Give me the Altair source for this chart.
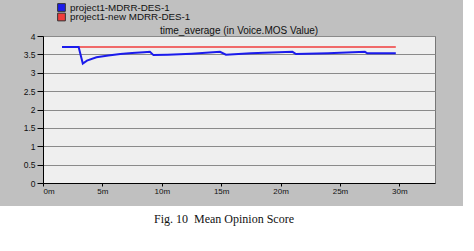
import altair as alt
import pandas as pd

series_names = ["project1-MDRR-DES-1", "project1-new MDRR-DES-1"]
series_colors = ["#1b1bec", "#f03c3c"]

blue_t = [1.6, 3.0, 3.35, 3.7, 4.5, 5.5, 6.5, 7.5, 8.5, 9.0, 9.3, 10.5, 12.5, 14.9, 15.4, 17.5, 21.0, 21.3, 24.0, 27.1, 27.3, 29.7]
blue_v = [3.70, 3.70, 3.25, 3.33, 3.42, 3.47, 3.51, 3.54, 3.56, 3.57, 3.48, 3.49, 3.52, 3.57, 3.49, 3.53, 3.57, 3.51, 3.53, 3.57, 3.53, 3.53]
red_t = [1.6, 29.7]
red_v = [3.70, 3.70]

x_ticks = [0, 5, 10, 15, 20, 25, 30]
y_ticks = [0, 0.5, 1, 1.5, 2, 2.5, 3, 3.5, 4]
title_text = "time_average (in Voice.MOS Value)"
caption_text = "Fig. 10\u00a0 Mean Opinion Score"

blue_df = pd.DataFrame({"t": blue_t, "v": blue_v, "s": series_names[0]})
red_df = pd.DataFrame({"t": red_t, "v": red_v, "s": series_names[1]})

W, H = 392, 147
PL, PT = 43, 36

color = alt.Color("s:N", scale=alt.Scale(domain=series_names, range=series_colors), legend=None)

xenc = alt.X("t:Q", scale=alt.Scale(domain=[0, 33], nice=False),
             axis=alt.Axis(values=x_ticks, labelExpr="datum.value + 'm'", title=None,
                           grid=False, tickSize=3, domainColor="#000", tickColor="#000",
                           labelFont="Liberation Sans", labelFontSize=8, labelColor="#111",
                           labelPadding=1))
yenc = alt.Y("v:Q", scale=alt.Scale(domain=[0, 4], nice=False),
             axis=alt.Axis(values=y_ticks, format="~g", title=None, grid=True,
                           gridColor="#8a8a8a", gridWidth=1, tickSize=6,
                           domainColor="#000", tickColor="#000",
                           labelFont="Liberation Sans", labelFontSize=8.5, labelColor="#111",
                           labelPadding=2))

red = alt.Chart(red_df).mark_line(strokeWidth=1.6).encode(x=xenc, y=yenc, color=color)
blue = alt.Chart(blue_df).mark_line(strokeWidth=2).encode(x=xenc, y=yenc, color=color)

deco = pd.DataFrame({"k": [0]})
white_bottom = alt.Chart(deco).mark_rect(color="white").encode(
    x=alt.value(-PL), x2=alt.value(474 - PL), y=alt.value(206 - PT), y2=alt.value(251 - PT))
white_right = alt.Chart(deco).mark_rect(color="white").encode(
    x=alt.value(463 - PL), x2=alt.value(474 - PL), y=alt.value(-PT), y2=alt.value(206 - PT))
cap_df = pd.DataFrame({"c": [caption_text]})
caption = alt.Chart(cap_df).mark_text(font="Liberation Serif", fontSize=12, color="#111",
                                      align="center", baseline="middle").encode(
    text="c:N", x=alt.value(224 - PL), y=alt.value(219 - PT))
ttl_df = pd.DataFrame({"c": [title_text]})
title = alt.Chart(ttl_df).mark_text(font="Liberation Sans", fontSize=10, color="#111",
                                    align="center", baseline="middle").encode(
    text="c:N", x=alt.value(W / 2), y=alt.value(31 - PT))

legend_layers = []
for i, (name, col) in enumerate(zip(series_names, series_colors)):
    ldf = pd.DataFrame({"s": [name]})
    yy = -28.5 + 9.5 * i
    legend_layers.append(alt.Chart(ldf).mark_square(size=60, filled=True, fill=col, stroke="#333",
                                                    strokeWidth=1, opacity=1).encode(
        x=alt.value(18.5), y=alt.value(yy)))
    legend_layers.append(alt.Chart(ldf).mark_text(font="Liberation Sans", fontSize=9.8, color="#111",
                                                  align="left", baseline="middle").encode(
        text="s:N", x=alt.value(27), y=alt.value(yy)))

chart = alt.layer(white_bottom, white_right, caption, title, *legend_layers, red, blue).properties(
    width=W, height=H,
    autosize=alt.AutoSizeParams(type="none"),
    padding={"left": PL, "top": PT, "right": 474 - PL - W, "bottom": 251 - PT - H},
).configure(background="#c0c0c0").configure_view(fill="#efefef", stroke="#777", strokeWidth=1)

chart.save("out.html", embed_options={"renderer": "svg", "actions": False})
